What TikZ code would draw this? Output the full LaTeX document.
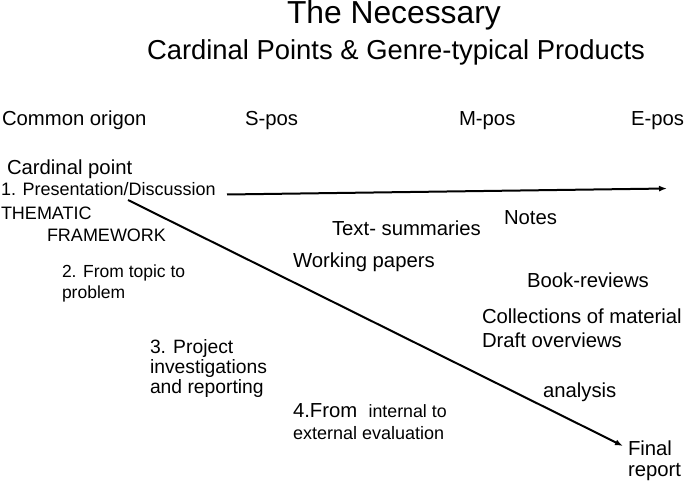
\documentclass[tikz,border=0pt]{standalone}
\usepackage{fontspec}
\setmainfont{Liberation Sans}
\usetikzlibrary{arrows.meta}
\newcommand{\fsz}[1]{\fontsize{#1bp}{1.2\dimexpr #1bp\relax}\selectfont}
\begin{document}
\begin{tikzpicture}[x=1bp,y=-1bp,
  lbl/.style={anchor=base west,inner sep=0pt,outer sep=0pt,font=\fsz{20.3}},
  small/.style={lbl,font=\fsz{18}},
  axisarrow/.style={line width=2bp,-{Latex[length=8bp,width=6bp]}}]
\useasboundingbox (0,0) rectangle (685,484);
% titles
\node[lbl,font=\fsz{31.8}] (title) at (287,24) {The Necessary};
\node[lbl,font=\fsz{27.4}] (subtitle) at (147,60) {Cardinal Points \& Genre-typical Products};
% positions
\node[lbl] (common) at (2,126) {Common origon};
\node[lbl] (spos) at (245,126) {S-pos};
\node[lbl] (mpos) at (459,126) {M-pos};
\node[lbl] (epos) at (631,126) {E-pos};
% cardinal points
\node[lbl] (cardinal) at (7,175) {Cardinal point};
\node[small] (p1) at (1,196) {1. Presentation/Discussion};
\node[small] (thematic) at (1,220) {THEMATIC};
\node[small] (framework) at (47,242) {FRAMEWORK};
\node[lbl,font=\fsz{17.5}] (p2a) at (62,277) {2. From topic to};
\node[lbl,font=\fsz{17.5}] (p2b) at (62,298) {problem};
\node[lbl,font=\fsz{19.3}] (p3a) at (150,353) {3. Project};
\node[lbl,font=\fsz{19.3}] (p3b) at (150,373) {investigations};
\node[lbl,font=\fsz{19.3}] (p3c) at (150,393) {and reporting};
\node[lbl] (p4a) at (293,417) {4.From\ \ {\fsz{17.8}internal to}};
\node[small] (p4b) at (293,439) {external evaluation};
% products
\node[lbl] (textsum) at (332,236) {Text- summaries};
\node[lbl] (notes) at (504,225) {Notes};
\node[lbl] (working) at (293,268) {Working papers};
\node[lbl] (book) at (527,287) {Book-reviews};
\node[lbl] (collections) at (482,323) {Collections of material};
\node[lbl] (draft) at (482,347) {Draft overviews};
\node[lbl] (analysis) at (543,397) {analysis};
\node[lbl] (finala) at (628,455) {Final};
\node[lbl] (finalb) at (628,476) {report};
% arrows
\coordinate (hstart) at (227,194.5);
\coordinate (hend) at (667,188.5);
\coordinate (dstart) at (128,200);
\coordinate (dend) at (623,446);
\draw[axisarrow] (hstart) -- (hend);
\draw[axisarrow] (dstart) -- (dend);
\end{tikzpicture}
\end{document}
